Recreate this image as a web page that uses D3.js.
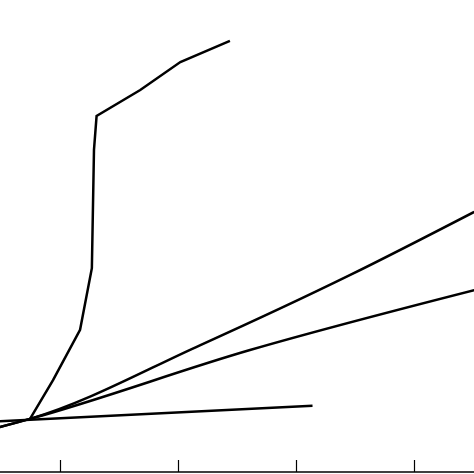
<!DOCTYPE html>
<html>
<body style="margin:0;background:#fff">
<div id="chart"></div>
<script src="https://cdn.jsdelivr.net/npm/d3@7"></script>
<script>
  // values (arbitrary units)
  var steepX = [0.746, 0.941, 1.17, 1.27, 1.288, 1.31, 1.68, 2.02, 2.44];
  var steepY = [1.18, 2.04, 3.16, 4.53, 7.16, 7.91, 8.49, 9.11, 9.58];
  var upperX = [0.49, 0.746, 2.19, 3.46, 4.51];
  var upperY = [1.0, 1.18, 2.82, 4.38, 5.78];
  var middleX = [0.49, 0.746, 2.61, 4.51];
  var middleY = [1.0, 1.18, 2.71, 4.04];
  var flatX = [0.49, 3.14];
  var flatY = [1.13, 1.47];
  var xTicks = [1, 2, 3, 4];

  var width = 474, height = 474;
  var svg = d3.select("#chart").append("svg")
      .attr("width", width).attr("height", height);

  var x = d3.scaleLinear().domain([0.5, 4.5]).range([1, 473]);
  var y = d3.scaleLinear().domain([0, 10]).range([472, 22]);

  svg.append("g")
      .attr("transform", "translate(0,472)")
      .call(d3.axisTop(x).tickValues(xTicks).tickSize(12).tickFormat(""))
      .call(function(g) {
        g.select(".domain").attr("d", "M0,0H474").attr("stroke-width", 1.5);
        g.selectAll("line").attr("stroke-width", 1.2);
      });

  var line = d3.line()
      .x(function(d) { return x(d[0]); })
      .y(function(d) { return y(d[1]); });

  function draw(xs, ys, curve) {
    svg.append("path")
        .datum(d3.zip(xs, ys))
        .attr("fill", "none")
        .attr("stroke", "#000")
        .attr("stroke-width", 2.5)
        .attr("d", line.curve(curve)(d3.zip(xs, ys)));
  }

  draw(steepX, steepY, d3.curveLinear);
  draw(upperX, upperY, d3.curveMonotoneX);
  draw(middleX, middleY, d3.curveMonotoneX);
  draw(flatX, flatY, d3.curveLinear);
</script>
</body>
</html>
